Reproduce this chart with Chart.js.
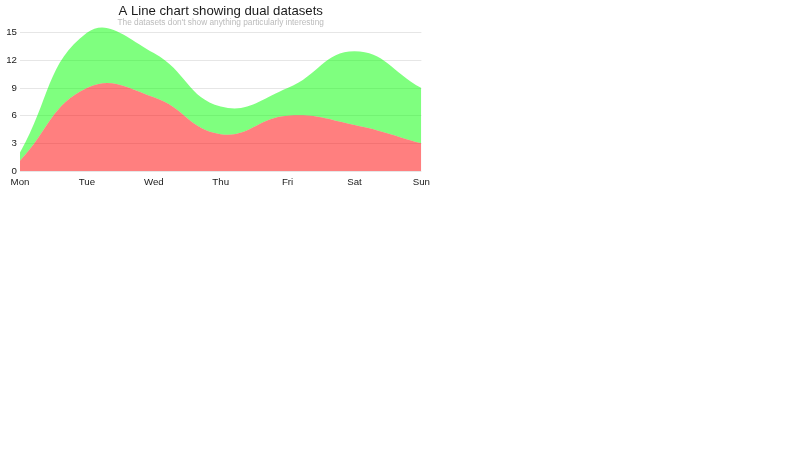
<!DOCTYPE html>
<html>
<head>
<meta charset="utf-8">
<script src="https://cdn.jsdelivr.net/npm/chart.js@4"></script>
<style>
  html, body { margin: 0; padding: 0; background: #fff; }
  #wrap { position: absolute; left: 0; top: 0; width: 436px; height: 192px; }
</style>
</head>
<body>
<div id="wrap"><canvas id="dualChart"></canvas></div>
<script>
// Categories and values
const days = ["Mon", "Tue", "Wed", "Thu", "Fri", "Sat", "Sun"];
const lowerValues = [1.1, 9, 8, 4, 6, 5, 3];
const upperValues = [2, 15, 12.8, 7, 9, 13, 9];
const yTicks = [0, 3, 6, 9, 12, 15];

const font = "'Liberation Sans', Arial, sans-serif";

window.addEventListener("DOMContentLoaded", () => {
  const canvas = document.getElementById("dualChart");

  new Chart(canvas, {
    type: "line",
    data: {
      labels: days,
      datasets: [
        {
          label: "lower",
          data: lowerValues,
          backgroundColor: "rgba(255, 0, 0, 0.5)",
          borderWidth: 0,
          pointRadius: 0,
          tension: 0.45,
          capBezierPoints: false,
          fill: "origin"
        },
        {
          label: "upper",
          data: upperValues,
          backgroundColor: "rgba(0, 255, 0, 0.5)",
          borderWidth: 0,
          pointRadius: 0,
          tension: 0.45,
          capBezierPoints: false,
          fill: "-1"
        }
      ]
    },
    options: {
      responsive: true,
      maintainAspectRatio: false,
      devicePixelRatio: 1,
      animation: false,
      layout: { padding: 0 },
      plugins: {
        legend: { display: false },
        tooltip: { enabled: false },
        title: {
          display: true,
          fullSize: false,
          text: "A Line chart showing dual datasets",
          color: "#1a1a1a",
          font: { family: font, size: 13.2, weight: "normal", lineHeight: 1 },
          padding: { top: 5, bottom: 0 }
        },
        subtitle: {
          display: true,
          fullSize: false,
          text: "The datasets don't show anything particularly interesting",
          color: "#bbb",
          font: { family: font, size: 8.3, lineHeight: 1 },
          padding: { top: 0, bottom: -3 }
        }
      },
      scales: {
        x: {
          grid: { display: false, drawTicks: false },
          border: { display: false },
          ticks: {
            color: "#1a1a1a",
            padding: 6,
            maxRotation: 0,
            font: { family: font, size: 9.7 }
          },
          afterFit: (scale) => { scale.height = 21; }
        },
        y: {
          min: 0,
          max: 16,
          grid: { color: "#e6e6e6", drawTicks: false },
          border: { display: false },
          ticks: {
            color: "#1a1a1a",
            padding: 3,
            font: { family: font, size: 9.7 }
          },
          afterBuildTicks: (axis) => {
            axis.ticks = yTicks.map(v => ({ value: v }));
          },
          afterFit: (scale) => { scale.width = 20; }
        }
      }
    }
  });
});
</script>
</body>
</html>
